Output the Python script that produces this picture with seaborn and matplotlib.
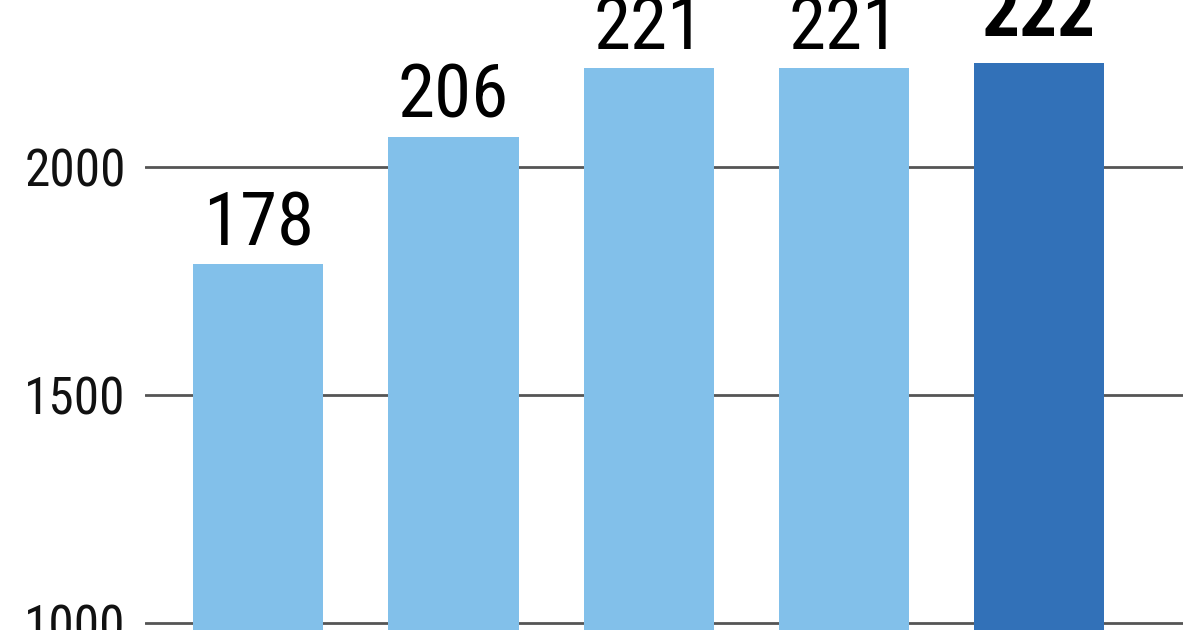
import matplotlib
matplotlib.use("Agg")
import matplotlib.pyplot as plt
import seaborn as sns
import pandas as pd

# Data
categories = ["1", "2", "3", "4", "5"]
values = [1787, 2066, 2218, 2218, 2227]
labels = ["178", "206", "221", "221", "222"]
bar_colors = ["#82C0EA", "#82C0EA", "#82C0EA", "#82C0EA", "#3271B8"]
yticks = [1000, 1500, 2000]

sns.set_theme(style="white")
plt.rcParams["font.family"] = ["Roboto Condensed", "Archivo Narrow", "PT Sans Narrow",
                               "Liberation Sans", "DejaVu Sans"]

df = pd.DataFrame({"cat": categories, "val": values})

fig = plt.figure(figsize=(12, 6.3), dpi=100)
ax = fig.add_axes([0.121, 0.0, 0.865, 1.0])

sns.barplot(data=df, x="cat", y="val", hue="cat", palette=bar_colors,
            width=0.667, legend=False, ax=ax, zorder=3, saturation=1,
            linewidth=0)

ax.set_ylim(985, 2366)
ax.set_xlim(-0.58, 4.74)
ax.set_yticks(yticks)
ax.set_yticklabels([str(t) for t in yticks], fontsize=37, color="#111111")
ax.tick_params(axis="y", length=0, pad=14)
ax.set_xticks([])
ax.set_xlabel("")
ax.set_ylabel("")
for s in ax.spines.values():
    s.set_visible(False)
for t in yticks:
    ax.axhline(t, color="#555555", linewidth=2, zorder=1)

for i, (v, lab) in enumerate(zip(values, labels)):
    bold = i == 4
    ax.annotate(lab, xy=(i, v), xytext=(0, 27 if bold else 19),
                textcoords="offset pixels", ha="center", va="baseline",
                fontsize=54, color="black",
                fontweight="bold" if bold else "normal")

fig.savefig("out.png", dpi=100)
